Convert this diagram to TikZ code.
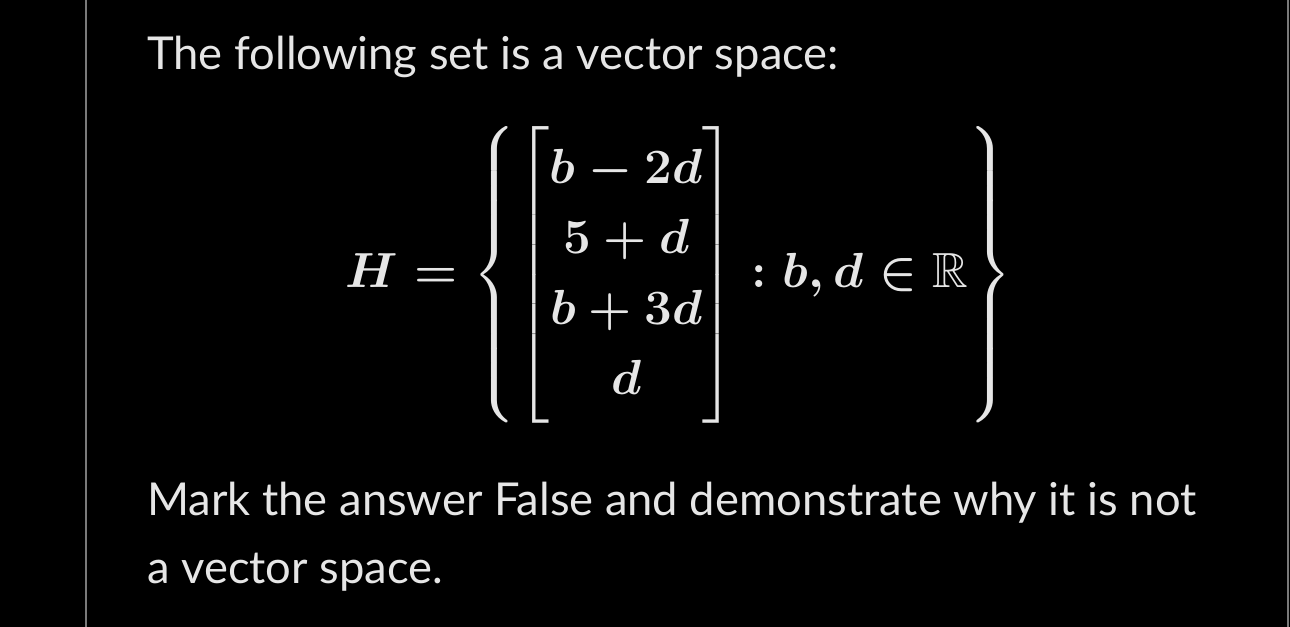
\RequirePackage{fix-cm}
\documentclass[tikz,border=0pt]{standalone}
\usepackage{amsmath,amssymb}
\usepackage{fontspec}
\setmainfont{Lato}
\definecolor{txt}{HTML}{E6E6E6}
\definecolor{rule}{HTML}{7A7A7A}
\begin{document}
\begin{tikzpicture}[x=0.75pt,y=-0.75pt,
  body/.style={anchor=base west,inner sep=0pt,text=txt,font=\fontsize{34}{40}\selectfont}]
\useasboundingbox (0,0) rectangle (1290,627);
\fill[black] (0,0) rectangle (1290,627);
\draw[rule,line width=2.2pt] (86,0) -- (86,627);
\draw[rule,line width=2.2pt] (1288,0) -- (1288,627);
\node[body] (t1) at (147,70) {The following set is a vector space:};
\node[text=txt,inner sep=0pt,font=\fontsize{37}{44}\selectfont\boldmath] (m) at (679,275)
 {$\renewcommand{\arraystretch}{1.2}\setlength{\arraycolsep}{14pt}H=\left\{\begin{bmatrix} b-2d\\ 5+d\\ b+3d\\ d\end{bmatrix}:b,d\in\mathbb{R}\right\}$};
\node[body] (t2) at (147,515) {Mark the answer False and demonstrate why it is not};
\node[body] (t3) at (147,583) {a vector space.};
\end{tikzpicture}
\end{document}
